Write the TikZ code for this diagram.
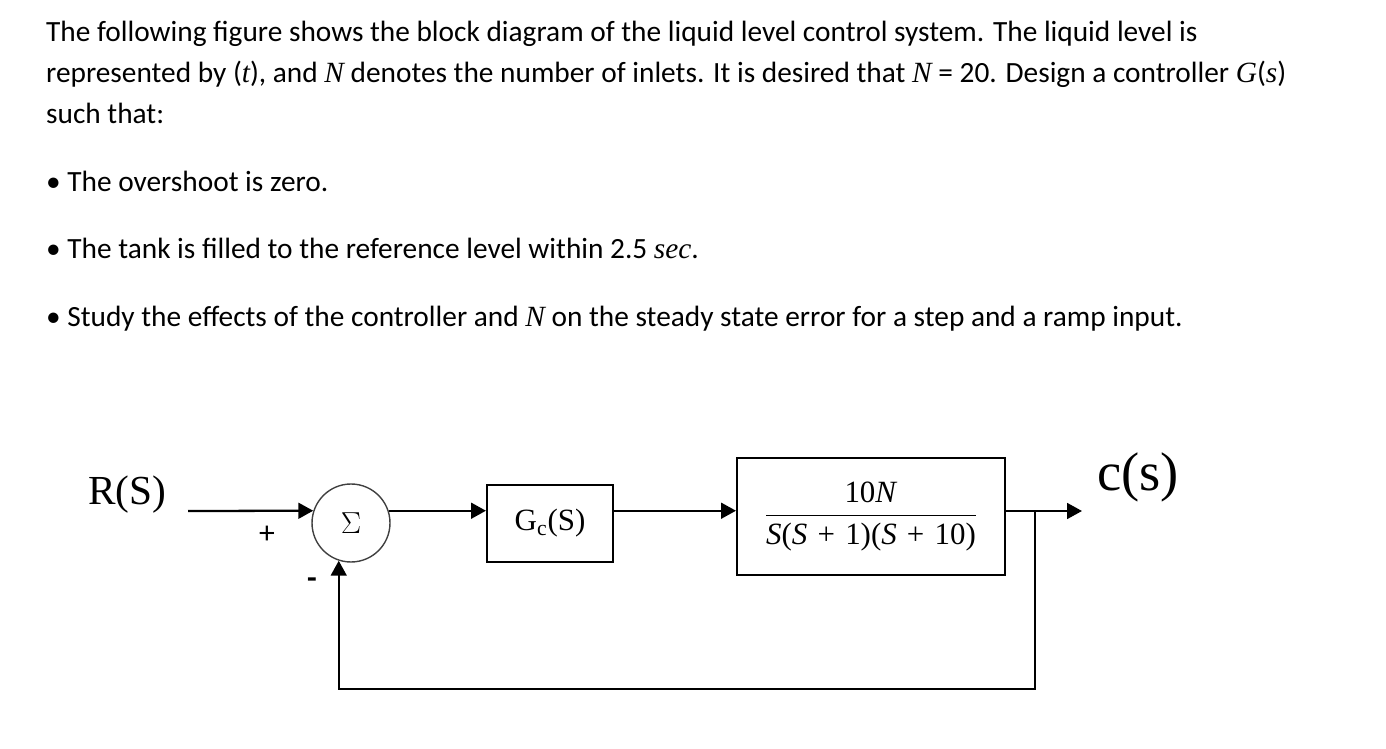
\documentclass[tikz,border=0pt]{standalone}
\usepackage{amsmath}
\usepackage{fontspec}
\setmainfont{Carlito}
\newfontfamily\blockfont{Liberation Serif}
\newcommand{\mi}[1]{{\blockfont\itshape #1}}
\newcommand{\pl}{\hspace{0.33em}+\hspace{0.33em}}
\usetikzlibrary{arrows.meta}

\begin{document}
\begin{tikzpicture}[x=0.02cm, y=-0.02cm, line width=1.3pt, every node/.style={inner sep=0pt},
	txt/.style={anchor=base west, font=\fontsize{16.7}{20}\selectfont},
	blk/.style={draw, line width=1.2pt, font=\blockfont\fontsize{17.6}{20}\selectfont},
	arr/.style={-{Triangle[length=8.5pt, width=9pt]}}]
	\useasboundingbox (0,0) rectangle (1386,749);
	% question text
	\node[txt] (intro1) at (45,42) {The following figure shows the block diagram of the liquid level control system. The liquid level is};
	\node[txt] (intro2) at (45,83) {represented by (\mi{t}), and \mi{N} denotes the number of inlets. It is desired that \mi{N} = 20. Design a controller \mi{G}(\mi{s})};
	\node[txt] (intro3) at (45,124) {such that:};
	\node[txt] (goal1) at (45,192) {\textbullet{} The overshoot is zero.};
	\node[txt] (goal2) at (45,259) {\textbullet{} The tank is filled to the reference level within 2.5 \mi{sec}.};
	\node[txt] (goal3) at (45,327) {\textbullet{} Study the effects of the controller and \mi{N} on the steady state error for a step and a ramp input.};
	% block diagram
	\node[font=\blockfont\fontsize{23.5}{28}\selectfont] (rlab) at (127,495) {R(S)};
	\node[font=\blockfont\fontsize{31}{36}\selectfont] (clab) at (1138,477) {c(s)};
	\node[draw, circle, line width=0.8pt, draw=black!75, minimum size=1.56cm, font=\blockfont\fontsize{16}{19}\selectfont] (sum) at (351,523) {$\Sigma$};
	\node[font=\fontsize{18}{20}\selectfont] (plus) at (267,535) {+};
	\node[font=\bfseries\fontsize{18}{20}\selectfont] (minus) at (312,583) {-};
	\node[blk, minimum width=2.52cm, minimum height=1.54cm] (gc) at (550,523.5) {G\textsubscript{c}(S)};
	\node[blk, minimum width=5.36cm, minimum height=2.34cm] (plant) at (871,516.5) {$\dfrac{\text{10\textit{N}}}{\text{\textit{S}(\textit{S}\pl1)(\textit{S}\pl10)}}$};
	\coordinate (rin) at (188,511);
	\coordinate (br) at (1035,511);
	\coordinate (cout) at (1082,511);
	\coordinate (fb) at (1035,689);
	\draw[arr] (rin) -- (sum.162);
	\draw[arr] (sum.18) -- (sum.18 -| gc.west);
	\draw[arr] (sum.18 -| gc.east) -- (sum.18 -| plant.west);
	\draw[arr] (br -| plant.east) -- (cout);
	\draw[arr] (br) -- (fb) -| (sum.252);
\end{tikzpicture}
\end{document}
